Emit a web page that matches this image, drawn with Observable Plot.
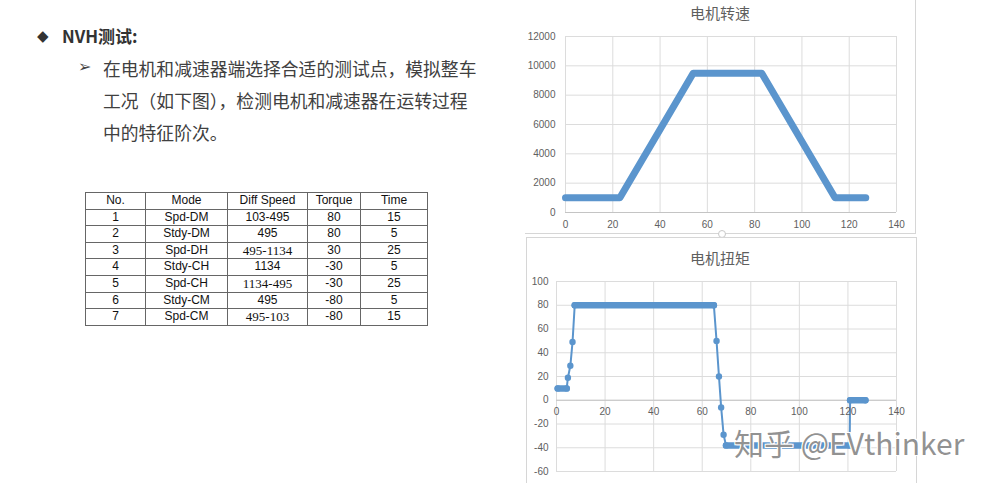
<!DOCTYPE html>
<html><head><meta charset="utf-8">
<script src="https://cdn.jsdelivr.net/npm/d3@7"></script>
<script src="https://cdn.jsdelivr.net/npm/@observablehq/plot@0.6"></script>
<style>
html,body{margin:0;padding:0;background:#fff;}
#page{position:relative;width:991px;height:483px;overflow:hidden;background:#fff;font-family:"Noto Sans CJK SC","Noto Sans",sans-serif;}
.abs{position:absolute;}
table.t{position:absolute;left:85px;top:192px;border-collapse:collapse;table-layout:fixed;font-family:"Liberation Sans",Arial,sans-serif;font-size:12px;color:#111;}
table.t td{border:1px solid #666;padding:0;height:15.6px;line-height:15.6px;text-align:center;white-space:nowrap;}
.ctitle{position:absolute;width:200px;text-align:center;font-size:15px;color:#5f5f5f;font-family:"Noto Sans CJK SC";}
</style></head><body><div id="page"></div>
<script>
// ---------- text ----------
const headingText = "NVH测试:";
const bodyLines = ["在电机和减速器端选择合适的测试点，模拟整车", "工况（如下图），检测电机和减速器在运转过程", "中的特征阶次。"];
const watermarkText = "知乎 @EVthinker";

// ---------- table ----------
const tableHeader = ["No.", "Mode", "Diff Speed", "Torque", "Time"];
const stepNo = [1, 2, 3, 4, 5, 6, 7];
const stepMode = ["Spd-DM", "Stdy-DM", "Spd-DH", "Stdy-CH", "Spd-CH", "Stdy-CM", "Spd-CM"];
const stepDiffSpeed = ["103-495", "495", "495-1134", "1134", "1134-495", "495", "495-103"];
const stepTorque = [80, 80, 30, -30, -30, -80, -80];
const stepTime = [15, 5, 25, 5, 25, 5, 15];

// ---------- speed chart ----------
const speedTitle = "电机转速";
const speedTime = [0, 23, 54, 83, 114, 127];
const speedRpm = [1000, 1000, 9500, 9500, 1000, 1000];
const speedXTicks = [0, 20, 40, 60, 80, 100, 120, 140];
const speedYTicks = [0, 2000, 4000, 6000, 8000, 10000, 12000];

// ---------- torque chart ----------
const torqueTitle = "电机扭矩";
const torqueTime = [0.5, 4.2, 4.7, 5.7, 6.6, 7.5, 64.8, 65.9, 66.9, 67.8, 68.8, 69.8, 120.7, 120.9, 127.2];
const torqueNm = [10, 10, 19, 29, 49, 80, 80, 50, 20, -6, -29, -38, -38, 0, 0];
const plateauStart = [0.5, 7.5, 69.8, 120.9];
const plateauEnd = [4.2, 64.8, 120.7, 127.2];
const plateauNm = [10, 80, -38, 0];
const torqueXTicks = [0, 20, 40, 60, 80, 100, 120, 140];
const torqueYTicks = [-60, -40, -20, 0, 20, 40, 60, 80, 100];

const BLUE = "#5b95cd";
const GRID = "#dcdcdc";
const page = document.getElementById("page");

function el(tag, cls, css, text) {
  const e = document.createElement(tag);
  if (cls) e.className = cls;
  if (css) e.style.cssText = css;
  if (text != null) e.textContent = text;
  return e;
}

// heading
page.appendChild(el("div", "abs", "left:37px;top:27px;font-size:15px;line-height:18px;color:#333;font-family:'DejaVu Sans';", "◆"));
page.appendChild(el("div", "abs", "left:62px;top:24px;font-size:17px;line-height:24px;font-weight:bold;color:#333;", headingText));
page.appendChild(el("div", "abs", "left:78px;top:57px;font-size:16px;line-height:20px;color:#444;font-family:'DejaVu Sans';", "➢"));
bodyLines.forEach((s, i) => {
  page.appendChild(el("div", "abs", `left:103px;top:${55 + i * 32}px;font-size:17.8px;line-height:26px;color:#404040;white-space:nowrap;`, s));
});

// table
const colW = [60, 82, 80, 53, 67];
const table = el("table", "t");
const cg = document.createElement("colgroup");
colW.forEach(w => { const c = document.createElement("col"); c.style.width = w + "px"; cg.appendChild(c); });
table.appendChild(cg);
const serifRows = new Set([2, 4, 6]);
const hr = document.createElement("tr");
tableHeader.forEach(h => hr.appendChild(el("td", null, null, h)));
table.appendChild(hr);
stepNo.forEach((n, i) => {
  const tr = document.createElement("tr");
  [n, stepMode[i], stepDiffSpeed[i], stepTorque[i], stepTime[i]].forEach((v, j) => {
    const td = el("td", null, null, String(v));
    if (j === 2 && serifRows.has(i)) { td.style.fontFamily = "'Liberation Serif',serif"; td.style.fontSize = "13px"; }
    tr.appendChild(td);
  });
  table.appendChild(tr);
});
table.style.width = colW.reduce((a, b) => a + b, 0) + "px";
page.appendChild(table);

// chart boxes
page.appendChild(el("div", "abs", "left:525px;top:-2px;width:390px;height:235px;border-right:1px solid #d6d6d6;border-bottom:1px solid #d6d6d6;"));
page.appendChild(el("div", "abs", "left:718px;top:230px;width:6px;height:6px;border:1px solid #c8c8c8;border-radius:50%;background:#fff;"));
page.appendChild(el("div", "abs", "left:526px;top:237px;width:389px;height:250px;border-left:1px solid #d6d6d6;border-top:1px solid #d6d6d6;border-right:1px solid #d6d6d6;"));

// titles
page.appendChild(el("div", "ctitle", "left:620px;top:2px;", speedTitle));
page.appendChild(el("div", "ctitle", "left:620px;top:247px;", torqueTitle));

const plotStyle = {fontFamily: "'Liberation Sans',Arial,sans-serif", fontSize: "10px", color: "#606060", background: "transparent", overflow: "visible"};

// speed chart
const speedData = speedTime.map((t, i) => ({t, v: speedRpm[i]}));
const speedPlot = Plot.plot({
  width: 412, height: 237,
  marginLeft: 60, marginRight: 21, marginTop: 36, marginBottom: 25,
  x: {domain: [0, 140], axis: null},
  y: {domain: [0, 12000], axis: null},
  style: plotStyle,
  marks: [
    Plot.ruleX(speedXTicks, {stroke: GRID}),
    Plot.ruleY(speedYTicks, {stroke: GRID}),
    Plot.ruleY([0], {stroke: "#c4c4c4"}),
    Plot.line(speedData, {x: "t", y: "v", stroke: BLUE, strokeWidth: 7, strokeLinecap: "round", strokeLinejoin: "round"}),
    Plot.text(speedXTicks, {x: d => d, y: () => 0, dy: 12, text: d => String(d), fill: "#606060"}),
    Plot.text(speedYTicks, {x: () => 0, y: d => d, dx: -10, textAnchor: "end", text: d => String(d), fill: "#606060"})
  ]
});
speedPlot.style.position = "absolute";
speedPlot.style.left = "505px";
speedPlot.style.top = "0px";
page.appendChild(speedPlot);

// torque chart
const torqueData = torqueTime.map((t, i) => ({t, v: torqueNm[i]}));
const plateaus = plateauStart.map((s, i) => ({s, e: plateauEnd[i], v: plateauNm[i]}));
const torquePlot = Plot.plot({
  width: 391, height: 245,
  marginLeft: 30, marginRight: 21, marginTop: 43, marginBottom: 12,
  x: {domain: [0, 140], axis: null},
  y: {domain: [-60, 100], axis: null},
  style: plotStyle,
  marks: [
    Plot.ruleX(torqueXTicks, {stroke: GRID}),
    Plot.ruleY(torqueYTicks, {stroke: GRID}),
    Plot.ruleY([0], {stroke: "#c4c4c4"}),
    Plot.line(torqueData, {x: "t", y: "v", stroke: BLUE, strokeWidth: 2}),
    Plot.link(plateaus, {x1: "s", x2: "e", y1: "v", y2: "v", stroke: BLUE, strokeWidth: 6.5, strokeLinecap: "round"}),
    Plot.dot(torqueData, {x: "t", y: "v", r: 3.2, fill: BLUE}),
    Plot.text(torqueXTicks, {x: d => d, y: () => 0, dy: 12, text: d => String(d), fill: "#606060"}),
    Plot.text(torqueYTicks, {x: () => 0, y: d => d, dx: -8, textAnchor: "end", text: d => String(d), fill: "#606060"})
  ]
});
torquePlot.style.position = "absolute";
torquePlot.style.left = "526px";
torquePlot.style.top = "238px";
page.appendChild(torquePlot);

// zhihu watermark
page.appendChild(el("div", "abs", "left:734px;top:422px;font-size:30px;line-height:40px;color:rgba(110,110,110,0.75);white-space:nowrap;text-shadow:1px 1px 0 #fff,-1px -1px 0 #fff,1px -1px 0 #fff,-1px 1px 0 #fff;font-family:'Noto Sans CJK SC';", watermarkText));
</script>
</body></html>
